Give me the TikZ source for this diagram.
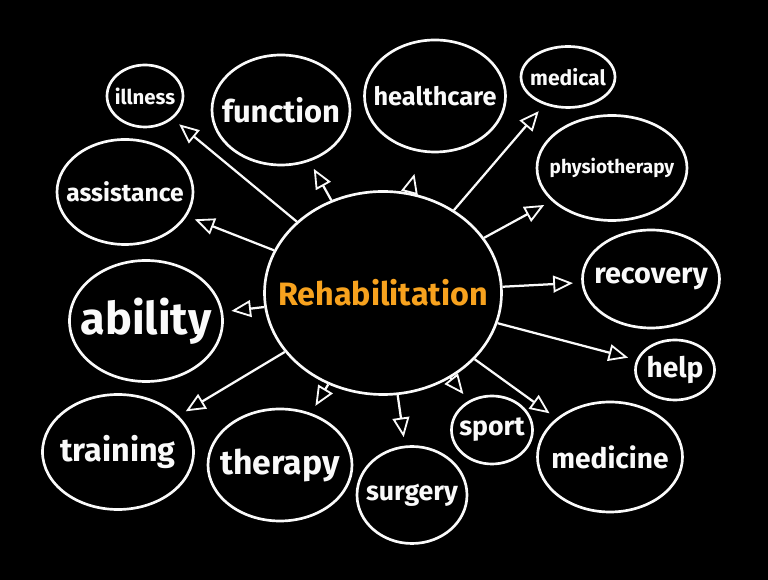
\documentclass[tikz,border=0pt]{standalone}
\usepackage{fontspec}
\setmainfont{Fira Sans}
\usepackage{xcolor}
\usetikzlibrary{arrows.meta,shapes.geometric}
\definecolor{mapblack}{RGB}{0,0,0}
\definecolor{mapwhite}{RGB}{250,250,250}
\definecolor{maporange}{RGB}{247,162,30}
\newcommand{\wordbox}[1]{\makebox[0pt]{#1}}

\begin{document}
\begin{tikzpicture}[
  bubble/.style={ellipse, draw=mapwhite, line width=1.9pt, inner sep=0pt, text=mapwhite},
  sz/.style={font=\fontsize{#1}{#1}\selectfont\bfseries},
  link/.style={draw=mapwhite, line width=1.6pt, shorten >=6pt,
    -{Triangle[open, length=14pt, width=12pt, line width=1.3pt]}}
]
% Background
\fill[mapblack] (0,0) rectangle (19.2,14.5);
\useasboundingbox (0,0) rectangle (19.2,14.5);

% Central topic
\node[bubble, minimum width=5.925cm, minimum height=5.075cm, sz=23pt, text=maporange]
  (rehab) at (9.575,7.175) {\wordbox{Rehabilitation}};

% Surrounding topics
\node[bubble, minimum width=1.9cm, minimum height=1.55cm, sz=14.5pt] (illness) at (3.625,12.1) {\wordbox{illness}};
\node[bubble, minimum width=3.45cm, minimum height=2.75cm, sz=22pt] (function) at (7.025,11.75) {\wordbox{function}};
\node[bubble, minimum width=3.525cm, minimum height=2.8cm, sz=18pt] (healthcare) at (10.875,12.1) {\wordbox{healthcare}};
\node[bubble, minimum width=2.35cm, minimum height=1.525cm, sz=15pt] (medical) at (14.2,12.575) {\wordbox{medical}};
\node[bubble, minimum width=3.75cm, minimum height=2.625cm, sz=13.5pt] (physio) at (15.3,10.3) {\wordbox{physiotherapy}};
\node[bubble, minimum width=3.4cm, minimum height=2.625cm, sz=17.5pt] (assistance) at (3.125,9.7) {\wordbox{assistance}};
\node[bubble, minimum width=3.425cm, minimum height=2.45cm, sz=20.5pt] (recovery) at (16.275,7.525) {\wordbox{recovery}};
\node[bubble, minimum width=3.825cm, minimum height=3.025cm, sz=32pt] (ability) at (3.65,6.475) {\wordbox{ability}};
\node[bubble, minimum width=1.975cm, minimum height=1.5cm, sz=20pt] (help) at (16.875,5.25) {\wordbox{help}};
\node[bubble, minimum width=3.775cm, minimum height=2.875cm, sz=23pt] (training) at (2.95,3.2) {\wordbox{training}};
\node[bubble, minimum width=3.6cm, minimum height=2.8cm, sz=24pt] (therapy) at (7.0,2.875) {\wordbox{therapy}};
\node[bubble, minimum width=2.75cm, minimum height=2.425cm, sz=19pt] (surgery) at (10.3,2.125) {\wordbox{surgery}};
\node[bubble, minimum width=2.025cm, minimum height=1.7cm, sz=19pt] (sport) at (12.3,3.75) {\wordbox{sport}};
\node[bubble, minimum width=3.625cm, minimum height=2.75cm, sz=20pt] (medicine) at (15.25,3.075) {\wordbox{medicine}};

% Arrows out of the centre
\foreach \t in {illness,function,medical,physio,assistance,recovery,ability,help,training,therapy,surgery,sport,medicine}
  \draw[link] (rehab) -- (\t);
\draw[link, shorten >=16pt] (rehab) -- (healthcare);
\end{tikzpicture}
\end{document}
